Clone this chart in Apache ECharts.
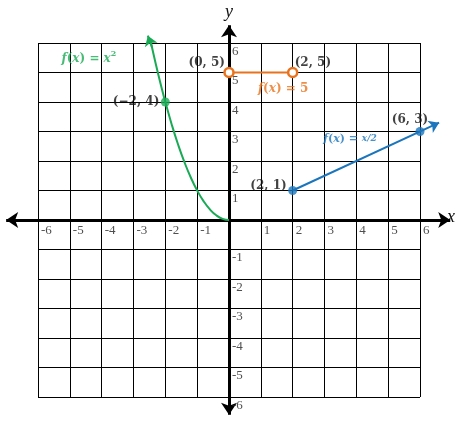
<!DOCTYPE html><html><head><meta charset="utf-8">
<script src="https://cdn.jsdelivr.net/npm/echarts@6/dist/echarts.min.js"></script>
<style>html,body{margin:0;background:#fff}#c{width:464px;height:421px}</style></head><body><div id="c"></div>
<script>
const ticks=[-6,-5,-4,-3,-2,-1,1,2,3,4,5,6];
const parabolaX=[-2.48,-2.3,-2.1,-2,-1.8,-1.6,-1.4,-1.2,-1,-0.8,-0.6,-0.4,-0.2,0];
const parabolaY=[6.15,5.29,4.41,4,3.24,2.56,1.96,1.44,1,0.64,0.36,0.16,0.04,0];
const constSeg=[[0,5],[2,5]];
const linearSeg=[[2,1],[6.6,3.3]];
const closedPts=[[-2,4],[2,1],[6,3]];
const pointLabels=[[-2,4,'(−2, 4)','left',[0,0]],[0,5,'(0, 5)','left',[2,-10]],[2,5,'(2, 5)','right',[-4,-10]],[2,1,'(2, 1)','left',[0,-5]],[6,3,'(6, 3)','top',[-10,0]]];
const G='#1aaa55',O='#e8731c',B='#1b75bc';
const font='"Liberation Serif", serif';
const c=echarts.init(document.getElementById('c'));
const tl={color:'#222',fontFamily:font,fontSize:13,align:'left',verticalAlign:'top'};
const it=(col,s)=>({fontStyle:'italic',fontWeight:'bold',fontSize:s||14,fontFamily:'"DejaVu Serif", serif',color:col});
const nt=(col,s)=>({fontWeight:'bold',fontSize:s||14,fontFamily:'"DejaVu Serif", serif',color:col});
c.setOption({
 animation:false,
 grid:{left:38,right:44,top:43,bottom:24},
 xAxis:{type:'value',min:-6,max:6,interval:1,
  axisLine:{onZero:true,lineStyle:{color:'#000',width:3}},axisTick:{show:false},
  splitLine:{lineStyle:{color:'#000',width:1}},axisLabel:{show:false}},
 yAxis:{type:'value',min:-6,max:6,interval:1,
  axisLine:{onZero:true,lineStyle:{color:'#000',width:3}},axisTick:{show:false},
  splitLine:{lineStyle:{color:'#000',width:1}},axisLabel:{show:false}},
 series:[
  {type:'lines',coordinateSystem:'cartesian2d',clip:false,symbol:['arrow','arrow'],symbolSize:12,
   lineStyle:{color:'#000',width:3,opacity:1},
   data:[{coords:[[-7.0,0],[6.95,0]]},{coords:[[0,-6.6],[0,6.6]]}]},
  {type:'line',data:parabolaX.map((x,i)=>[x,parabolaY[i]]),smooth:true,showSymbol:false,
   lineStyle:{color:G,width:2},clip:false},
  {type:'lines',coordinateSystem:'cartesian2d',clip:false,symbol:['none','arrow'],symbolSize:10,
   lineStyle:{color:G,width:2,opacity:1},data:[{coords:[[-2.42,5.86],[-2.55,6.25]]}]},
  {type:'lines',coordinateSystem:'cartesian2d',clip:false,symbol:['none','arrow'],symbolSize:10,
   lineStyle:{color:B,width:2,opacity:1},data:[{coords:linearSeg}]},
  {type:'line',data:constSeg,symbol:'circle',symbolSize:9,lineStyle:{color:O,width:2},
   itemStyle:{color:'#fff',borderColor:O,borderWidth:2.5},z:4},
  {type:'scatter',data:closedPts,symbolSize:9,z:5,
   itemStyle:{color:p=>p.dataIndex===0?G:B}},
  {type:'scatter',symbolSize:0,silent:true,data:ticks.map(v=>[v,0]),
   label:{show:true,position:[3,4],formatter:p=>String(p.value[0]),...tl}},
  {type:'scatter',symbolSize:0,silent:true,data:ticks.map(v=>[0,v]),
   label:{show:true,position:[3,2],formatter:p=>String(p.value[1]),...tl}},
  {type:'scatter',symbolSize:0,silent:true,z:6,data:pointLabels.map(p=>({value:[p[0],p[1]],label:{position:p[3],offset:p[4]}})),
   label:{show:true,distance:6,formatter:p=>pointLabels[p.dataIndex][2],color:'#111',fontFamily:'"DejaVu Serif", serif',fontWeight:'bold',fontSize:12}},
  {type:'scatter',symbolSize:0,silent:true,z:6,data:[
   {value:[-4.4,5.45],label:{formatter:'{i|f}{n|(}{i|x}{n|) = }{i|x}{s|2}',rich:{i:it(G,12),n:nt(G,12),s:{...nt(G,8),padding:[0,0,10,0]}}}},
   {value:[1.7,4.45],label:{formatter:'{i|f}{n|(}{i|x}{n|) = 5}',rich:{i:it(O,12),n:nt(O,12)}}},
   {value:[3.8,2.75],label:{formatter:'{i|f}{n|(}{i|x}{n|) = }{f|x/2}',rich:{i:it(B,11),n:nt(B,11),f:it(B,9)}}}],
   label:{show:true,position:'inside'}}
 ],
 graphic:[
  {type:'text',left:225,top:3,style:{text:'y',font:'italic 18px "Liberation Serif"',fill:'#111'}},
  {type:'text',left:447,top:208,style:{text:'x',font:'italic 18px "Liberation Serif"',fill:'#111'}}
 ]
});
</script></body></html>
